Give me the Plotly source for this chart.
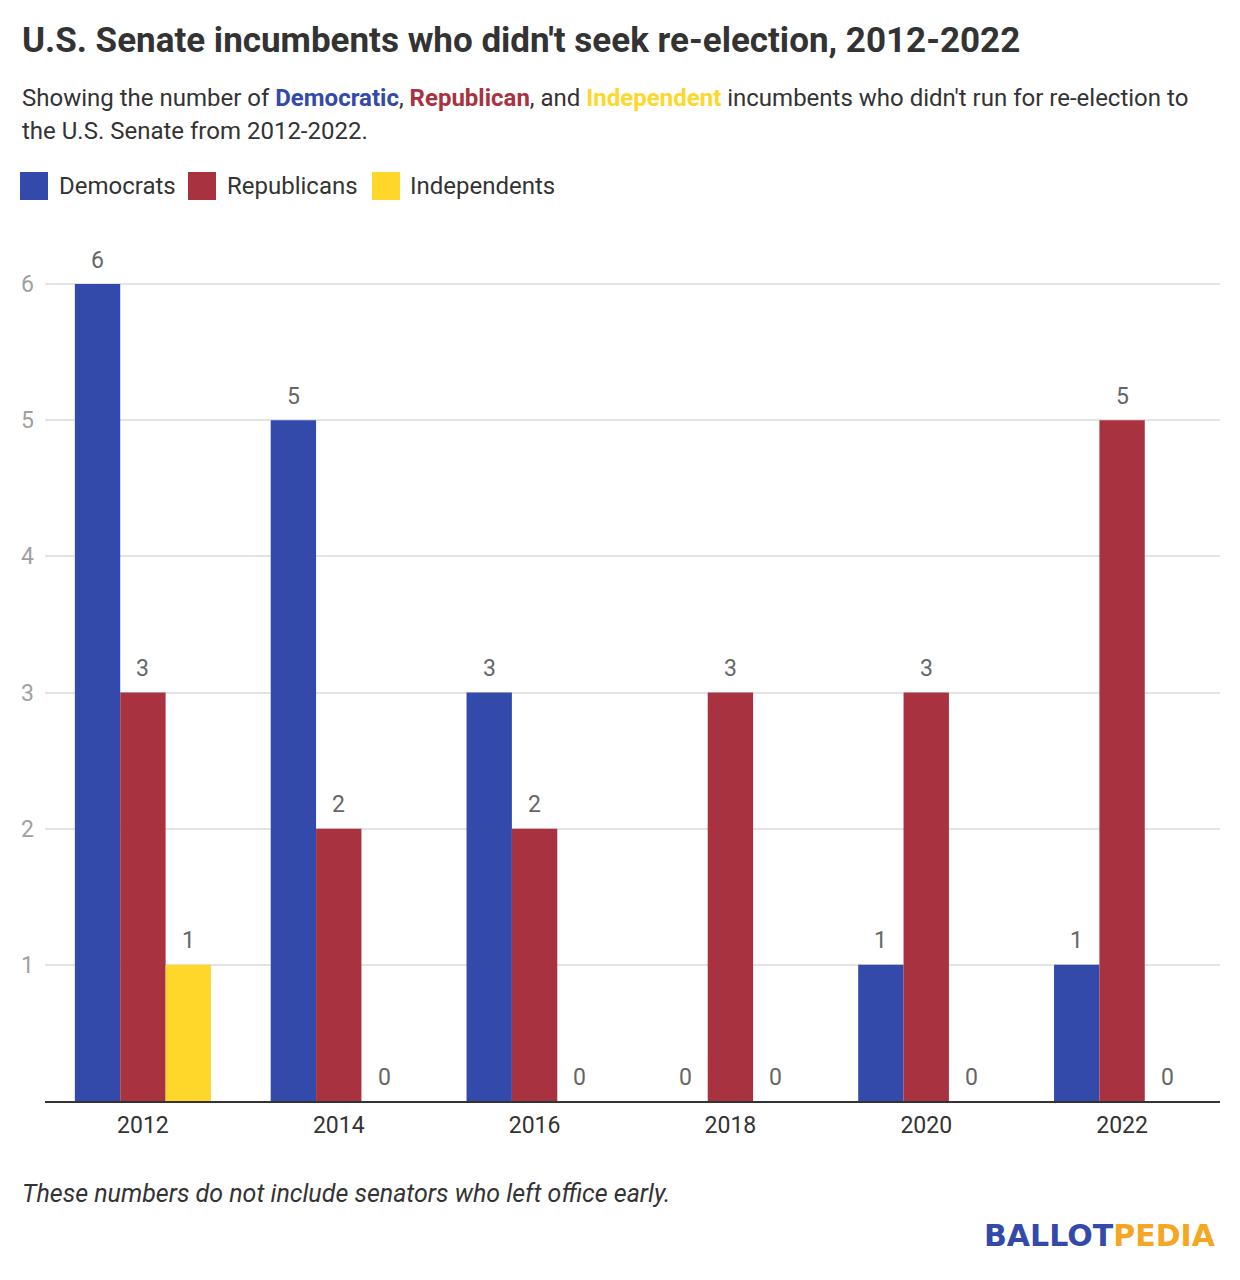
import plotly.graph_objects as go

years = ["2012", "2014", "2016", "2018", "2020", "2022"]
democrats = [6, 5, 3, 0, 1, 1]
republicans = [3, 2, 2, 3, 3, 5]
independents = [1, 0, 0, 0, 0, 0]

series_names = ["Democrats", "Republicans", "Independents"]
series_values = [democrats, republicans, independents]
colors = ["#334aab", "#a93240", "#fed72a"]

FONT = "Roboto"
W, H = 1240, 1280
ML, MR, MT, MB = 45, 20, 250, 179
BARGAP = 0.305
plot_w = W - ML - MR
plot_h = H - MT - MB

fig = go.Figure()
for name, vals, col in zip(series_names, series_values, colors):
    fig.add_trace(go.Bar(
        x=years, y=vals, name=name, marker=dict(color=col, line=dict(width=0)),
        showlegend=False, hoverinfo="x+y+name",
    ))

fig.update_layout(
    width=W, height=H,
    margin=dict(l=ML, r=MR, t=MT, b=MB),
    paper_bgcolor="white", plot_bgcolor="white",
    barmode="group", bargap=BARGAP, bargroupgap=0,
    font=dict(family=FONT, color="#333333"),
    xaxis=dict(
        type="category", categoryorder="array", categoryarray=years,
        range=[-0.5, len(years) - 0.5],
        showgrid=False, showline=True, linecolor="#333333", linewidth=2,
        ticks="", tickfont=dict(family=FONT, size=23, color="#333333"),
        ticklabelstandoff=2,
    ),
    yaxis=dict(
        range=[0, 6.25], tickvals=[1, 2, 3, 4, 5, 6], showgrid=True,
        gridcolor="#e3e3e3", gridwidth=1.5, zeroline=False, showline=False,
        ticks="", tickfont=dict(family=FONT, size=23, color="#a0a0a0"),
        ticklabelstandoff=10,
    ),
)

annotations = []
# value labels above each bar (data coordinates: category index, value)
bar_px = plot_w / len(years) * (1 - BARGAP) / len(series_names)
for i, vals in enumerate(series_values):
    for j, v in enumerate(vals):
        annotations.append(dict(
            x=j, y=v, xref="x", yref="y", text=str(v), showarrow=False,
            xshift=(i - 1) * bar_px, yshift=24, yanchor="middle", xanchor="center",
            font=dict(family=FONT, size=23, color="#666666"),
        ))

px_ann = [
    dict(text="<b>U.S. Senate incumbents who didn't seek re-election, 2012-2022</b>",
         x=20, y=40, font=dict(family=FONT, size=35, color="#333333")),
    dict(text="Showing the number of <b><span style='color:#334aab'>Democratic</span></b>, "
              "<b><span style='color:#a93240'>Republican</span></b>, and "
              "<b><span style='color:#fed72a'>Independent</span></b> incumbents who didn't run for re-election to",
         x=20, y=98, font=dict(family=FONT, size=24, color="#333333")),
    dict(text="the U.S. Senate from 2012-2022.",
         x=20, y=131, font=dict(family=FONT, size=24, color="#333333")),
    dict(text="<i>These numbers do not include senators who left office early.</i>",
         x=20, y=1193, font=dict(family=FONT, size=25, color="#333333")),
    dict(text="<b><span style='color:#334aab'>BALLOT</span><span style='color:#f5a623'>PEDIA</span></b>",
         x=982, y=1235, font=dict(family="DejaVu Sans", size=30, color="#334aab")),
]

legend_items = [(20, 57, "Democrats"), (188, 225, "Republicans"), (372, 408, "Independents")]
for sx, tx, label in legend_items:
    px_ann.append(dict(text=label, x=tx, y=186, font=dict(family=FONT, size=24, color="#333333")))

for a in px_ann:
    px, py = a.pop("x"), a.pop("y")
    a.update(xref="paper", yref="paper",
             x=(px - ML) / plot_w, y=(H - MB - py) / plot_h,
             xanchor="left", yanchor="middle", showarrow=False, align="left")
    annotations.append(a)

shapes = []
for (sx, tx, label), col in zip(legend_items, colors):
    shapes.append(dict(type="rect", xref="paper", yref="paper",
                       x0=(sx - ML) / plot_w, x1=(sx + 28 - ML) / plot_w,
                       y0=(H - MB - 200) / plot_h, y1=(H - MB - 172) / plot_h,
                       line=dict(width=0), fillcolor=col))

fig.update_layout(annotations=annotations, shapes=shapes)
fig.write_html("out.html")
